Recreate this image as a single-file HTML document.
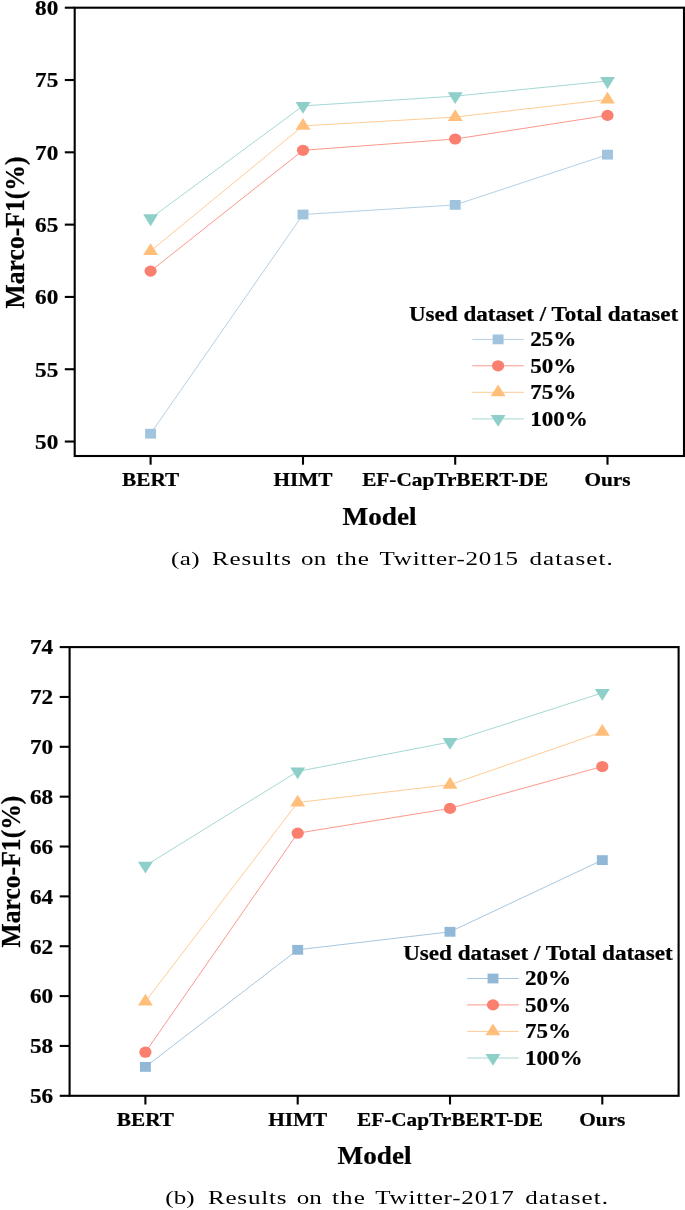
<!DOCTYPE html>
<html lang="en">
<head>
<meta charset="utf-8">
<title>Results on the Twitter-2015 and Twitter-2017 datasets</title>
<style>
html,body{margin:0;padding:0;background:#fff;}
body{width:685px;height:1210px;overflow:hidden;position:relative;}
svg{position:absolute;left:0;top:0;display:block;}
svg text{font-family:"Liberation Serif","DejaVu Serif",serif;font-weight:bold;fill:#000;stroke:#000;stroke-width:0.25px;}
svg text.cap{font-weight:normal;fill:#000;stroke:none;}
</style>
</head>
<body>
<svg width="685" height="1210" viewBox="0 0 685 1210">
<rect x="0" y="0" width="685" height="1210" fill="#ffffff"/>
<g id="chart-a">
<polyline points="150.60,433.70 303.00,214.50 455.20,204.90 607.50,154.65" fill="none" stroke="#A0C4DE" stroke-width="0.95" stroke-opacity="0.85"/>
<polyline points="150.60,271.10 303.00,150.30 455.20,139.00 607.50,115.40" fill="none" stroke="#FA7F6F" stroke-width="0.95" stroke-opacity="0.85"/>
<polyline points="150.60,251.00 303.00,125.90 455.20,117.10 607.50,99.50" fill="none" stroke="#FFBE7A" stroke-width="0.95" stroke-opacity="0.85"/>
<polyline points="150.60,218.30 303.00,105.90 455.20,96.15 607.50,81.05" fill="none" stroke="#8ECFC9" stroke-width="0.95" stroke-opacity="0.85"/>
<rect x="145.15" y="428.80" width="10.9" height="9.8" fill="#A0C4DE"/>
<rect x="297.55" y="209.60" width="10.9" height="9.8" fill="#A0C4DE"/>
<rect x="449.75" y="200.00" width="10.9" height="9.8" fill="#A0C4DE"/>
<rect x="602.05" y="149.75" width="10.9" height="9.8" fill="#A0C4DE"/>
<ellipse cx="150.60" cy="271.10" rx="6.1" ry="5.6" fill="#FA7F6F"/>
<ellipse cx="303.00" cy="150.30" rx="6.1" ry="5.6" fill="#FA7F6F"/>
<ellipse cx="455.20" cy="139.00" rx="6.1" ry="5.6" fill="#FA7F6F"/>
<ellipse cx="607.50" cy="115.40" rx="6.1" ry="5.6" fill="#FA7F6F"/>
<polygon points="143.15,254.93 158.05,254.93 150.60,243.13" fill="#FFBE7A"/>
<polygon points="295.55,129.83 310.45,129.83 303.00,118.03" fill="#FFBE7A"/>
<polygon points="447.75,121.03 462.65,121.03 455.20,109.23" fill="#FFBE7A"/>
<polygon points="600.05,103.43 614.95,103.43 607.50,91.63" fill="#FFBE7A"/>
<polygon points="143.15,214.37 158.05,214.37 150.60,226.17" fill="#8ECFC9"/>
<polygon points="295.55,101.97 310.45,101.97 303.00,113.77" fill="#8ECFC9"/>
<polygon points="447.75,92.22 462.65,92.22 455.20,104.02" fill="#8ECFC9"/>
<polygon points="600.05,77.12 614.95,77.12 607.50,88.92" fill="#8ECFC9"/>
<rect x="74.7" y="7.7" width="609.30" height="448.30" fill="none" stroke="#000" stroke-width="2.1"/>
<line x1="64.80" y1="7.70" x2="74.7" y2="7.70" stroke="#000" stroke-width="2.1"/>
<text transform="translate(58.30,14.99) scale(1.0,0.93)" font-size="23.2" text-anchor="end">80</text>
<line x1="64.80" y1="80.01" x2="74.7" y2="80.01" stroke="#000" stroke-width="2.1"/>
<text transform="translate(58.30,87.30) scale(1.0,0.93)" font-size="23.2" text-anchor="end">75</text>
<line x1="64.80" y1="152.31" x2="74.7" y2="152.31" stroke="#000" stroke-width="2.1"/>
<text transform="translate(58.30,159.61) scale(1.0,0.93)" font-size="23.2" text-anchor="end">70</text>
<line x1="64.80" y1="224.62" x2="74.7" y2="224.62" stroke="#000" stroke-width="2.1"/>
<text transform="translate(58.30,231.91) scale(1.0,0.93)" font-size="23.2" text-anchor="end">65</text>
<line x1="64.80" y1="296.93" x2="74.7" y2="296.93" stroke="#000" stroke-width="2.1"/>
<text transform="translate(58.30,304.22) scale(1.0,0.93)" font-size="23.2" text-anchor="end">60</text>
<line x1="64.80" y1="369.23" x2="74.7" y2="369.23" stroke="#000" stroke-width="2.1"/>
<text transform="translate(58.30,376.53) scale(1.0,0.93)" font-size="23.2" text-anchor="end">55</text>
<line x1="64.80" y1="441.54" x2="74.7" y2="441.54" stroke="#000" stroke-width="2.1"/>
<text transform="translate(58.30,448.83) scale(1.0,0.93)" font-size="23.2" text-anchor="end">50</text>
<line x1="150.60" y1="456.0" x2="150.60" y2="464.70" stroke="#000" stroke-width="2.1"/>
<text transform="translate(150.60,486.40) scale(1.0,0.905)" font-size="21.3" text-anchor="middle">BERT</text>
<line x1="303.00" y1="456.0" x2="303.00" y2="464.70" stroke="#000" stroke-width="2.1"/>
<text transform="translate(303.00,486.40) scale(1.0,0.905)" font-size="21.3" text-anchor="middle">HIMT</text>
<line x1="455.20" y1="456.0" x2="455.20" y2="464.70" stroke="#000" stroke-width="2.1"/>
<text transform="translate(455.20,486.40) scale(1.0,0.905)" font-size="21.3" text-anchor="middle">EF-CapTrBERT-DE</text>
<line x1="607.50" y1="456.0" x2="607.50" y2="464.70" stroke="#000" stroke-width="2.1"/>
<text transform="translate(607.50,486.40) scale(1.0,0.905)" font-size="21.3" text-anchor="middle">Ours</text>
<text transform="translate(379.60,524.80) scale(1.0,0.93)" font-size="27.2" text-anchor="middle">Model</text>
<text transform="translate(23.80,232.50) rotate(-90) scale(0.95,1)" font-size="27" text-anchor="middle">Marco-F1(%)</text>
<text transform="translate(543.60,320.80) scale(1.0,0.87)" font-size="23.1" text-anchor="middle">Used dataset / Total dataset</text>
<line x1="472.3" y1="339.4" x2="523.8" y2="339.4" stroke="#A0C4DE" stroke-width="0.95" stroke-opacity="0.85"/>
<rect x="492.65" y="334.50" width="10.9" height="9.8" fill="#A0C4DE"/>
<text transform="translate(530.20,346.27) scale(1.0,0.88)" font-size="23.1" text-anchor="start">25%</text>
<line x1="472.3" y1="365.8" x2="523.8" y2="365.8" stroke="#FA7F6F" stroke-width="0.95" stroke-opacity="0.85"/>
<ellipse cx="498.10" cy="365.80" rx="6.1" ry="5.6" fill="#FA7F6F"/>
<text transform="translate(530.20,372.67) scale(1.0,0.88)" font-size="23.1" text-anchor="start">50%</text>
<line x1="472.3" y1="392.3" x2="523.8" y2="392.3" stroke="#FFBE7A" stroke-width="0.95" stroke-opacity="0.85"/>
<polygon points="490.65,396.23 505.55,396.23 498.10,384.43" fill="#FFBE7A"/>
<text transform="translate(530.20,399.17) scale(1.0,0.88)" font-size="23.1" text-anchor="start">75%</text>
<line x1="472.3" y1="418.9" x2="523.8" y2="418.9" stroke="#8ECFC9" stroke-width="0.95" stroke-opacity="0.85"/>
<polygon points="490.65,414.97 505.55,414.97 498.10,426.77" fill="#8ECFC9"/>
<text transform="translate(530.20,425.77) scale(1.0,0.88)" font-size="23.1" text-anchor="start">100%</text>
</g>
<g id="chart-b">
<polyline points="145.40,1066.90 297.70,949.80 450.00,931.80 602.30,860.10" fill="none" stroke="#91B8D6" stroke-width="0.95" stroke-opacity="0.85"/>
<polyline points="145.40,1052.20 297.70,833.20 450.00,808.40 602.30,766.50" fill="none" stroke="#FA7F6F" stroke-width="0.95" stroke-opacity="0.85"/>
<polyline points="145.40,1001.50 297.70,802.50 450.00,784.70 602.30,731.90" fill="none" stroke="#FFBE7A" stroke-width="0.95" stroke-opacity="0.85"/>
<polyline points="145.40,865.70 297.70,771.45 450.00,742.00 602.30,692.90" fill="none" stroke="#8ECFC9" stroke-width="0.95" stroke-opacity="0.85"/>
<rect x="139.95" y="1062.00" width="10.9" height="9.8" fill="#91B8D6"/>
<rect x="292.25" y="944.90" width="10.9" height="9.8" fill="#91B8D6"/>
<rect x="444.55" y="926.90" width="10.9" height="9.8" fill="#91B8D6"/>
<rect x="596.85" y="855.20" width="10.9" height="9.8" fill="#91B8D6"/>
<ellipse cx="145.40" cy="1052.20" rx="6.1" ry="5.6" fill="#FA7F6F"/>
<ellipse cx="297.70" cy="833.20" rx="6.1" ry="5.6" fill="#FA7F6F"/>
<ellipse cx="450.00" cy="808.40" rx="6.1" ry="5.6" fill="#FA7F6F"/>
<ellipse cx="602.30" cy="766.50" rx="6.1" ry="5.6" fill="#FA7F6F"/>
<polygon points="137.95,1005.43 152.85,1005.43 145.40,993.63" fill="#FFBE7A"/>
<polygon points="290.25,806.43 305.15,806.43 297.70,794.63" fill="#FFBE7A"/>
<polygon points="442.55,788.63 457.45,788.63 450.00,776.83" fill="#FFBE7A"/>
<polygon points="594.85,735.83 609.75,735.83 602.30,724.03" fill="#FFBE7A"/>
<polygon points="137.95,861.77 152.85,861.77 145.40,873.57" fill="#8ECFC9"/>
<polygon points="290.25,767.52 305.15,767.52 297.70,779.32" fill="#8ECFC9"/>
<polygon points="442.55,738.07 457.45,738.07 450.00,749.87" fill="#8ECFC9"/>
<polygon points="594.85,688.97 609.75,688.97 602.30,700.77" fill="#8ECFC9"/>
<rect x="69.6" y="647.1" width="609.00" height="448.70" fill="none" stroke="#000" stroke-width="2.1"/>
<line x1="59.70" y1="647.10" x2="69.6" y2="647.10" stroke="#000" stroke-width="2.1"/>
<text transform="translate(53.20,654.39) scale(1.0,0.93)" font-size="23.2" text-anchor="end">74</text>
<line x1="59.70" y1="696.96" x2="69.6" y2="696.96" stroke="#000" stroke-width="2.1"/>
<text transform="translate(53.20,704.25) scale(1.0,0.93)" font-size="23.2" text-anchor="end">72</text>
<line x1="59.70" y1="746.81" x2="69.6" y2="746.81" stroke="#000" stroke-width="2.1"/>
<text transform="translate(53.20,754.10) scale(1.0,0.93)" font-size="23.2" text-anchor="end">70</text>
<line x1="59.70" y1="796.67" x2="69.6" y2="796.67" stroke="#000" stroke-width="2.1"/>
<text transform="translate(53.20,803.96) scale(1.0,0.93)" font-size="23.2" text-anchor="end">68</text>
<line x1="59.70" y1="846.52" x2="69.6" y2="846.52" stroke="#000" stroke-width="2.1"/>
<text transform="translate(53.20,853.81) scale(1.0,0.93)" font-size="23.2" text-anchor="end">66</text>
<line x1="59.70" y1="896.38" x2="69.6" y2="896.38" stroke="#000" stroke-width="2.1"/>
<text transform="translate(53.20,903.67) scale(1.0,0.93)" font-size="23.2" text-anchor="end">64</text>
<line x1="59.70" y1="946.23" x2="69.6" y2="946.23" stroke="#000" stroke-width="2.1"/>
<text transform="translate(53.20,953.53) scale(1.0,0.93)" font-size="23.2" text-anchor="end">62</text>
<line x1="59.70" y1="996.09" x2="69.6" y2="996.09" stroke="#000" stroke-width="2.1"/>
<text transform="translate(53.20,1003.38) scale(1.0,0.93)" font-size="23.2" text-anchor="end">60</text>
<line x1="59.70" y1="1045.94" x2="69.6" y2="1045.94" stroke="#000" stroke-width="2.1"/>
<text transform="translate(53.20,1053.24) scale(1.0,0.93)" font-size="23.2" text-anchor="end">58</text>
<line x1="59.70" y1="1095.80" x2="69.6" y2="1095.80" stroke="#000" stroke-width="2.1"/>
<text transform="translate(53.20,1103.09) scale(1.0,0.93)" font-size="23.2" text-anchor="end">56</text>
<line x1="145.40" y1="1095.8" x2="145.40" y2="1104.50" stroke="#000" stroke-width="2.1"/>
<text transform="translate(145.40,1126.00) scale(1.0,0.905)" font-size="21.3" text-anchor="middle">BERT</text>
<line x1="297.70" y1="1095.8" x2="297.70" y2="1104.50" stroke="#000" stroke-width="2.1"/>
<text transform="translate(297.70,1126.00) scale(1.0,0.905)" font-size="21.3" text-anchor="middle">HIMT</text>
<line x1="450.00" y1="1095.8" x2="450.00" y2="1104.50" stroke="#000" stroke-width="2.1"/>
<text transform="translate(450.00,1126.00) scale(1.0,0.905)" font-size="21.3" text-anchor="middle">EF-CapTrBERT-DE</text>
<line x1="602.30" y1="1095.8" x2="602.30" y2="1104.50" stroke="#000" stroke-width="2.1"/>
<text transform="translate(602.30,1126.00) scale(1.0,0.905)" font-size="21.3" text-anchor="middle">Ours</text>
<text transform="translate(374.50,1164.40) scale(1.0,0.93)" font-size="27.2" text-anchor="middle">Model</text>
<text transform="translate(19.50,871.60) rotate(-90) scale(0.95,1)" font-size="27" text-anchor="middle">Marco-F1(%)</text>
<text transform="translate(537.90,959.60) scale(1.0,0.87)" font-size="23.1" text-anchor="middle">Used dataset / Total dataset</text>
<line x1="467.2" y1="978.5" x2="518.6999999999999" y2="978.5" stroke="#91B8D6" stroke-width="0.95" stroke-opacity="0.85"/>
<rect x="487.55" y="973.60" width="10.9" height="9.8" fill="#91B8D6"/>
<text transform="translate(524.90,985.37) scale(1.0,0.88)" font-size="23.1" text-anchor="start">20%</text>
<line x1="467.2" y1="1004.9000000000001" x2="518.6999999999999" y2="1004.9000000000001" stroke="#FA7F6F" stroke-width="0.95" stroke-opacity="0.85"/>
<ellipse cx="493.00" cy="1004.90" rx="6.1" ry="5.6" fill="#FA7F6F"/>
<text transform="translate(524.90,1011.77) scale(1.0,0.88)" font-size="23.1" text-anchor="start">50%</text>
<line x1="467.2" y1="1031.4" x2="518.6999999999999" y2="1031.4" stroke="#FFBE7A" stroke-width="0.95" stroke-opacity="0.85"/>
<polygon points="485.55,1035.33 500.45,1035.33 493.00,1023.53" fill="#FFBE7A"/>
<text transform="translate(524.90,1038.27) scale(1.0,0.88)" font-size="23.1" text-anchor="start">75%</text>
<line x1="467.2" y1="1058.0" x2="518.6999999999999" y2="1058.0" stroke="#8ECFC9" stroke-width="0.95" stroke-opacity="0.85"/>
<polygon points="485.55,1054.07 500.45,1054.07 493.00,1065.87" fill="#8ECFC9"/>
<text transform="translate(524.90,1064.87) scale(1.0,0.88)" font-size="23.1" text-anchor="start">100%</text>
</g>
<g id="captions">
<text class="cap" transform="translate(0,564.5) scale(1.36,1)" font-size="18.4" xml:space="preserve"><tspan x="125.74" textLength="21.03" lengthAdjust="spacing">(a)</tspan> <tspan x="155.88" textLength="58.01" lengthAdjust="spacing">Results</tspan> <tspan x="221.32" textLength="18.53" lengthAdjust="spacing">on</tspan> <tspan x="247.28" textLength="23.90" lengthAdjust="spacing">the</tspan> <tspan x="279.04" textLength="101.84" lengthAdjust="spacing">Twitter-2015</tspan> <tspan x="389.26" textLength="61.40" lengthAdjust="spacing">dataset.</tspan></text>
<text class="cap" transform="translate(0,1203.6) scale(1.36,1)" font-size="18.4" xml:space="preserve"><tspan x="121.47" textLength="21.62" lengthAdjust="spacing">(b)</tspan> <tspan x="152.87" textLength="57.87" lengthAdjust="spacing">Results</tspan> <tspan x="218.16" textLength="18.53" lengthAdjust="spacing">on</tspan> <tspan x="244.04" textLength="24.19" lengthAdjust="spacing">the</tspan> <tspan x="275.88" textLength="101.91" lengthAdjust="spacing">Twitter-2017</tspan> <tspan x="386.18" textLength="60.81" lengthAdjust="spacing">dataset.</tspan></text>
</g>
</svg>
</body>
</html>
